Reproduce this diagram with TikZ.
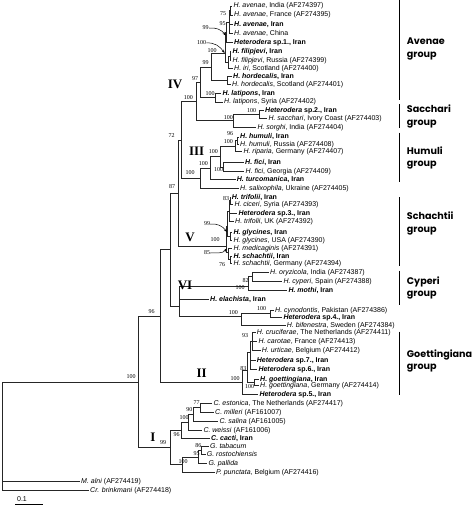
\documentclass[tikz,border=0pt]{standalone}
\usepackage{fontspec}
\setmainfont{Liberation Sans}
\newfontfamily\bsfont{Liberation Serif}
\newfontfamily\grpfont{Poppins}
\usetikzlibrary{arrows.meta}
\newcommand\tx[2]{\textit{#1}#2}
\newcommand\tb[2]{\textbf{\textit{#1}#2}}
\begin{document}
\begin{tikzpicture}[x=1pt,y=-1pt,
  leaf/.style={anchor=west,inner xsep=1.2pt,inner ysep=0pt,font=\fontsize{7}{8}\selectfont,text height=5pt,text depth=1pt},
  bs/.style={font=\bsfont\fontsize{6}{6}\selectfont,inner sep=0pt},
  roman/.style={font=\bsfont\bfseries\fontsize{13}{13}\selectfont,inner sep=0pt},
  branch/.style={draw=black!85,line width=0.6pt},
  arrowc/.style={-{Stealth[length=3.4pt,width=2.6pt]},line width=0.5pt},
  grpbar/.style={line width=1.4pt},
  grplab/.style={font=\grpfont\bfseries\fontsize{9.6}{12.5}\selectfont,align=left,anchor=west,inner sep=0pt}]
\useasboundingbox (0,0) rectangle (474,505);
% leaves
\node[leaf] (l1) at (232.1,6) {\tx{H. avenae}{, India (AF274397)}};
\node[leaf] (l2) at (232.8,15) {\tx{H. avenae}{, France (AF274395)}};
\node[leaf] (l3) at (232.8,24.5) {\tb{H. avenae}{, Iran}};
\node[leaf] (l4) at (232.8,33.5) {\tx{H. avenae}{, China}};
\node[leaf] (l5) at (232.8,42.5) {\tb{Heterodera}{ sp.1., Iran}};
\node[leaf] (l6) at (231.1,51.5) {\tb{H. filipjevi}{, Iran}};
\node[leaf] (l7) at (231.1,60.5) {\tx{H. filipjevi}{, Russia (AF274399)}};
\node[leaf] (l8) at (232.8,68.5) {\tx{H. iri}{, Scotland (AF274400)}};
\node[leaf] (l9) at (231.8,76.5) {\tb{H. hordecalis}{, Iran}};
\node[leaf] (l10) at (230.8,84.5) {\tx{H. hordecalis}{, Scotland (AF274401)}};
\node[leaf] (l11) at (221.1,93.5) {\tb{H. latipons}{, Iran}};
\node[leaf] (l12) at (222.8,102) {\tx{H. latipons}{, Syria (AF274402)}};
\node[leaf] (l13) at (263.8,110.7) {\tb{Heterodera}{ sp.2., Iran}};
\node[leaf] (l14) at (267.1,118.5) {\tx{H. sacchari}{, Ivory Coast (AF274403)}};
\node[leaf] (l15) at (256.1,127.5) {\tx{H. sorghi}{, India (AF274404)}};
\node[leaf] (l16) at (238.8,137) {\tb{H. humuli}{, Iran}};
\node[leaf] (l17) at (238.8,144.5) {\tx{H. humuli}{, Russia (AF274408)}};
\node[leaf] (l18) at (242.1,151.5) {\tx{H. riparia}{, Germany (AF274407)}};
\node[leaf] (l19) at (243.8,162.7) {\tb{H. fici}{, Iran}};
\node[leaf] (l20) at (244.3,171) {\tx{H. fici}{, Georgia (AF274409)}};
\node[leaf] (l21) at (235.5,179.3) {\tb{H. turcomanica}{, Iran}};
\node[leaf] (l22) at (238.8,188) {\tx{H. salixophila}{, Ukraine (AF274405)}};
\node[leaf] (l23) at (230.5,197) {\tb{H. trifolii}{, Iran}};
\node[leaf] (l24) at (233.1,204.3) {\tx{H. ciceri}{, Syria (AF274393)}};
\node[leaf] (l25) at (237.1,213.3) {\tb{Heterodera}{ sp.3., Iran}};
\node[leaf] (l26) at (233.8,221.5) {\tx{H. trifolii}{, UK (AF274392)}};
\node[leaf] (l27) at (232.1,232.7) {\tb{H. glycines}{, Iran}};
\node[leaf] (l28) at (232.1,240) {\tx{H. glycines}{, USA (AF274390)}};
\node[leaf] (l29) at (232.1,248) {\tx{H. medicaginis}{ (AF274391)}};
\node[leaf] (l30) at (232.1,256) {\tb{H. schachtii}{, Iran}};
\node[leaf] (l31) at (232.1,263.3) {\tx{H. schachtii}{, Germany (AF274394)}};
\node[leaf] (l32) at (268.8,272) {\tx{H. oryzicola}{, India (AF274387)}};
\node[leaf] (l33) at (282.1,281.3) {\tx{H. cyperi}{, Spain (AF274388)}};
\node[leaf] (l34) at (287.1,290.7) {\tb{H. mothi}{, Iran}};
\node[leaf] (l35) at (208.8,299) {\tb{H. elachista}{, Iran}};
\node[leaf] (l36) at (273.8,310) {\tx{H. cynodontis}{, Pakistan (AF274386)}};
\node[leaf] (l37) at (282.1,317.3) {\tb{Heterodera}{ sp.4., Iran}};
\node[leaf] (l38) at (285.5,325) {\tx{H. bifenestra}{, Sweden (AF274384)}};
\node[leaf] (l39) at (255.5,332) {\tx{H. cruciferae}{, The Netherlands (AF274411)}};
\node[leaf] (l40) at (257.1,341) {\tx{H. carotae}{, France (AF274413)}};
\node[leaf] (l41) at (260.5,350) {\tx{H. urticae}{, Belgium (AF274412)}};
\node[leaf] (l42) at (255.5,360) {\tb{Heterodera}{ sp.7., Iran}};
\node[leaf] (l43) at (257.1,369.3) {\tb{Heterodera}{ sp.6., Iran}};
\node[leaf] (l44) at (258.8,379) {\tb{H. goettingiana}{, Iran}};
\node[leaf] (l45) at (258.8,385.7) {\tx{H. goettingiana}{, Germany (AF274414)}};
\node[leaf] (l46) at (258.1,394) {\tb{Heterodera}{ sp.5., Iran}};
\node[leaf] (l47) at (212.1,403.3) {\tx{C. estonica}{, The Netherlands (AF274417)}};
\node[leaf] (l48) at (213.8,412) {\tx{C. milleri}{ (AF161007)}};
\node[leaf] (l49) at (218.1,421) {\tx{C. salina}{ (AF161005)}};
\node[leaf] (l50) at (202.1,430) {\tx{C. weissi}{ (AF161006)}};
\node[leaf] (l51) at (209.8,438.5) {\tb{C. cacti}{, Iran}};
\node[leaf] (l52) at (208.8,446) {\tx{G. tabacum}{}};
\node[leaf] (l53) at (205.5,454.7) {\tx{G. rostochiensis}{}};
\node[leaf] (l54) at (207.1,463.3) {\tx{G. pallida}{}};
\node[leaf] (l55) at (214.8,472.7) {\tx{P. punctata}{, Belgium (AF274416)}};
\node[leaf] (l56) at (79.8,481) {\tx{M. alni}{ (AF274419)}};
\node[leaf] (l57) at (88.8,490.3) {\tx{Cr. brinkmani}{ (AF274418)}};
% internal nodes
\coordinate (E) at (230.5,10.5);
\coordinate (D) at (229,22);
\coordinate (C) at (226.5,32);
\coordinate (F) at (230,56);
\coordinate (G) at (228,62);
\coordinate (A) at (225,53);
\coordinate (H) at (227,80.5);
\coordinate (N99) at (211.7,67);
\coordinate (L) at (215,97.7);
\coordinate (N97) at (200,82.3);
\coordinate (SP) at (259,114.6);
\coordinate (S) at (233.3,120);
\coordinate (IV) at (196,101);
\coordinate (HU96) at (237.5,140.7);
\coordinate (HU100) at (235,146);
\coordinate (FI) at (223,166.8);
\coordinate (N220) at (220,156.4);
\coordinate (N210) at (210,167.9);
\coordinate (III) at (200,178);
\coordinate (N72) at (181.7,140);
\coordinate (P1) at (229.8,200.7);
\coordinate (T) at (228.8,211);
\coordinate (Gp) at (230.5,236.4);
\coordinate (V1) at (227.5,226);
\coordinate (Sp) at (230,259.7);
\coordinate (V2) at (227.8,252);
\coordinate (Vn) at (226.3,246);
\coordinate (N178) at (178,193);
\coordinate (O82) at (252,276.7);
\coordinate (O100) at (248,286);
\coordinate (R) at (270,313.7);
\coordinate (Q) at (241.7,316);
\coordinate (X) at (179.3,306);
\coordinate (N87) at (170.7,249.5);
\coordinate (N1) at (252.5,341);
\coordinate (N2) at (250,352);
\coordinate (Gq) at (254,382.3);
\coordinate (N83) at (247,370);
\coordinate (II) at (242,382);
\coordinate (N96) at (160,316);
\coordinate (C77) at (200,407.7);
\coordinate (C90) at (193.3,414.3);
\coordinate (C100) at (188,422);
\coordinate (C96) at (181.7,430.3);
\coordinate (G86) at (201.7,450.3);
\coordinate (G95) at (198,456.8);
\coordinate (G100) at (182.7,464.7);
\coordinate (GI) at (170,447);
\coordinate (N100) at (138,382);
\coordinate (RT) at (2.5,382);
% branches
\foreach \p/\c in {E/l1.west,E/l2.west,D/E,D/l3.west,D/l4.west,C/D,C/l5.west,
  F/l6.west,F/l7.west,G/F,G/l8.west,A/C,A/G,H/l9.west,H/l10.west,N99/A,N99/H,
  L/l11.west,L/l12.west,N97/N99,N97/L,SP/l13.west,SP/l14.west,S/SP,S/l15.west,
  IV/N97,IV/S,HU96/l16.west,HU96/l17.west,HU100/HU96,HU100/l18.west,
  FI/l19.west,FI/l20.west,N220/HU100,N220/FI,N210/N220,N210/l21.west,
  III/N210,III/l22.west,N72/IV,N72/III,P1/l23.west,P1/l24.west,T/P1,
  T/l25.west,T/l26.west,Gp/l27.west,Gp/l28.west,V1/T,V1/Gp,Sp/l30.west,
  Sp/l31.west,V2/l29.west,V2/Sp,Vn/V1,Vn/V2,N178/N72,N178/Vn,
  O82/l32.west,O82/l33.west,O100/O82,O100/l34.west,R/l36.west,R/l37.west,
  Q/R,Q/l38.west,X/O100,X/l35.west,X/Q,N87/N178,N87/X,
  N1/l39.west,N1/l40.west,N1/l41.west,N2/N1,N2/l42.west,N2/l43.west,
  Gq/l44.west,Gq/l45.west,N83/N2,N83/Gq,II/N83,II/l46.west,N96/N87,N96/II,
  C77/l47.west,C77/l48.west,C90/C77,C90/l49.west,C100/C90,C100/l50.west,
  C96/C100,C96/l51.west,G86/l52.west,G86/l53.west,G95/G86,G95/l54.west,
  G100/G95,G100/l55.west,GI/C96,GI/G100,N100/N96,N100/GI,
  RT/N100,RT/l56.west,RT/l57.west}
  \draw[branch] (\p) |- (\c);
% bootstrap values
\node[bs] (b1) at (223,14) {75};
\node[bs] (b2) at (222.7,24) {95};
\node[bs] (b3) at (212,50.5) {100};
\node[bs] (b4) at (205.7,63) {99};
\node[bs] (b5) at (195,79) {97};
\node[bs] (b6) at (210,93.3) {100};
\node[bs] (b7) at (188.3,98) {100};
\node[bs] (b8) at (251.7,110.7) {100};
\node[bs] (b9) at (228.3,117.3) {100};
\node[bs] (b10) at (171.7,136) {72};
\node[bs] (b11) at (230,134) {96};
\node[bs] (b12) at (228.3,141.7) {100};
\node[bs] (b13) at (213.3,151.7) {100};
\node[bs] (b14) at (203.3,164) {100};
\node[bs] (b15) at (218.5,169.5) {100};
\node[bs] (b16) at (190,173) {100};
\node[bs] (b17) at (172,187) {87};
\node[bs] (b18) at (226,199) {83};
\node[bs] (b19) at (215,240) {100};
\node[bs] (b20) at (222,265) {76};
\node[bs] (b21) at (245.7,281) {82};
\node[bs] (b22) at (240,288) {100};
\node[bs] (b23) at (261.7,309) {100};
\node[bs] (b24) at (233.3,313) {100};
\node[bs] (b25) at (151.7,312) {96};
\node[bs] (b26) at (245,336) {93};
\node[bs] (b27) at (243.3,369) {83};
\node[bs] (b28) at (235,378.5) {100};
\node[bs] (b29) at (249.5,386.5) {100};
\node[bs] (b30) at (131,377) {100};
\node[bs] (b31) at (196.7,402.7) {77};
\node[bs] (b32) at (189.3,410) {90};
\node[bs] (b33) at (184,417.7) {100};
\node[bs] (b34) at (176.7,435) {96};
\node[bs] (b35) at (163,443) {99};
\node[bs] (b36) at (198.3,446) {86};
\node[bs] (b37) at (196.7,453.3) {95};
\node[bs] (b38) at (183,461.7) {100};
% arrowed bootstrap values
\node[bs] (a1) at (205.7,28) {99};
\node[bs] (a2) at (201.7,43) {100};
\node[bs] (a3) at (207,224) {99};
\node[bs] (a4) at (207,253) {85};
\coordinate (t1) at (225.6,35.5);
\coordinate (t2) at (224.6,53);
\coordinate (t3) at (226.8,232);
\coordinate (t4) at (226.6,248.5);
\draw[arrowc] (a1.east) to[out=5,in=125] (t1);
\draw[arrowc] (a2.east) to[out=5,in=125] (t2);
\draw[arrowc] (a3.east) to[out=5,in=125] (t3);
\draw[arrowc] (a4.east) to[out=5,in=-125] (t4);
% clade numerals
\node[roman] (rIV) at (175,84) {IV};
\node[roman] (rIII) at (196.7,151.7) {III};
\node[roman] (rV) at (190,237) {V};
\node[roman] (rVI) at (185,285) {VI};
\node[roman] (rII) at (201.7,373) {II};
\node[roman] (rI) at (153,437) {I};
% group bars and labels
\coordinate (g1a) at (399.5,0); \coordinate (g1b) at (399.5,100);
\coordinate (g2a) at (399.5,104); \coordinate (g2b) at (399.5,128.3);
\coordinate (g3a) at (399.5,132.7); \coordinate (g3b) at (399.5,181.7);
\coordinate (g4a) at (399.5,197.3); \coordinate (g4b) at (399.5,265.7);
\coordinate (g5a) at (399.5,270.7); \coordinate (g5b) at (399.5,305);
\coordinate (g6a) at (399.5,331.7); \coordinate (g6b) at (399.5,395);
\draw[grpbar] (g1a) -- (g1b);
\draw[grpbar] (g2a) -- (g2b);
\draw[grpbar] (g3a) -- (g3b);
\draw[grpbar] (g4a) -- (g4b);
\draw[grpbar] (g5a) -- (g5b);
\draw[grpbar] (g6a) -- (g6b);
\node[grplab] (t1g) at (406.7,49) {Avenae\\group};
\node[grplab] (t2g) at (406.7,116.7) {Sacchari\\group};
\node[grplab] (t3g) at (406.7,158) {Humuli\\group};
\node[grplab] (t4g) at (406.7,223.3) {Schachtii\\group};
\node[grplab] (t5g) at (406.7,288) {Cyperi\\group};
\node[grplab] (t6g) at (406.7,361) {Goettingiana\\group};
% scale bar
\node[font=\fontsize{7}{8}\selectfont,inner sep=0pt] (sc) at (22,499) {0.1};
\coordinate (sca) at (15,503.8);
\coordinate (scb) at (43,503.8);
\draw[line width=0.6pt] (sca) -- (scb);
\end{tikzpicture}
\end{document}
